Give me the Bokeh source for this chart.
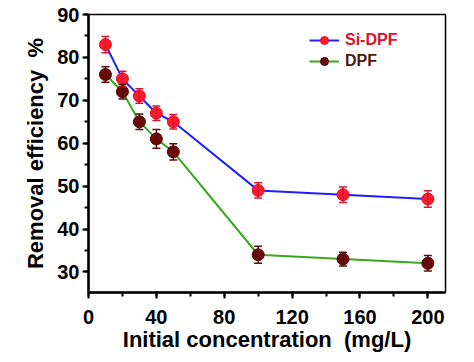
from bokeh.plotting import figure
from bokeh.models import (ColumnDataSource, Whisker, Range1d, SingleIntervalTicker,
                          Legend, LegendItem, TeeHead)
from bokeh.embed import file_html
from bokeh.resources import INLINE

conc = [10, 20, 30, 40, 50, 100, 150, 200]
si_dpf = [83, 75, 71, 67, 65, 49, 48, 47]
si_dpf_err = [1.9, 1.8, 1.7, 1.7, 1.7, 1.8, 1.8, 1.9]
dpf = [76, 72, 65, 61, 58, 34, 33, 32]
dpf_err = [1.8, 1.7, 1.8, 2.2, 1.9, 2.0, 1.6, 1.8]

FONT = "Liberation Sans"

p = figure(width=466, height=354, output_backend="svg", toolbar_location=None,
           x_range=Range1d(0, 210.4), y_range=Range1d(25.2, 90),
           min_border_left=88, min_border_right=21, min_border_top=14, min_border_bottom=56)
p.background_fill_color = "white"
p.border_fill_color = "white"
p.xgrid.visible = False
p.ygrid.visible = False
p.outline_line_color = "black"
p.outline_line_width = 1.5

s1 = ColumnDataSource(dict(x=conc, y=si_dpf,
                           lo=[v - e for v, e in zip(si_dpf, si_dpf_err)],
                           hi=[v + e for v, e in zip(si_dpf, si_dpf_err)]))
s2 = ColumnDataSource(dict(x=conc, y=dpf,
                           lo=[v - e for v, e in zip(dpf, dpf_err)],
                           hi=[v + e for v, e in zip(dpf, dpf_err)]))

l1 = p.line("x", "y", source=s1, line_color="#1f1fff", line_width=2)
l2 = p.line("x", "y", source=s2, line_color="#3aa81a", line_width=2)

for src, col in ((s1, "#d01838"), (s2, "#5a0c0c")):
    w = Whisker(base="x", upper="hi", lower="lo", source=src,
                line_color=col, line_width=1.5,
                upper_head=TeeHead(size=8, line_color=col, line_width=1.5),
                lower_head=TeeHead(size=8, line_color=col, line_width=1.5))
    w.level = "overlay"
    p.add_layout(w)

m1 = p.scatter("x", "y", source=s1, size=12, fill_color="#ff1a2a", line_color="#e0102a", line_width=1)
m2 = p.scatter("x", "y", source=s2, size=12, fill_color="#6b0a0a", line_color="#4a0505", line_width=1)
m1.level = "overlay"
m2.level = "overlay"

# axes
for ax in (p.xaxis[0], p.yaxis[0]):
    ax.axis_line_width = 2.5
    ax.major_tick_line_width = 2
    ax.minor_tick_line_width = 2
    ax.major_tick_in = 0
    ax.major_tick_out = 6
    ax.minor_tick_in = 0
    ax.minor_tick_out = 4
    ax.major_label_text_font = FONT
    ax.major_label_text_font_style = "bold"
    ax.major_label_text_font_size = "20px"
    ax.major_label_text_color = "black"
    ax.axis_label_text_font = FONT
    ax.axis_label_text_font_style = "bold"
    ax.axis_label_text_font_size = "22px"
    ax.axis_label_text_color = "black"

p.xaxis.major_label_standoff = 11
p.xaxis.axis_label_standoff = 0
p.yaxis.major_label_standoff = 3
p.yaxis.axis_label_standoff = 6

p.xaxis.ticker = SingleIntervalTicker(interval=40, num_minor_ticks=2)
p.yaxis.ticker = SingleIntervalTicker(interval=10, num_minor_ticks=2)
p.xaxis.axis_label = "Initial concentration\u00a0\u00a0(mg/L)"
p.yaxis.axis_label = "Removal efficiency\u00a0\u00a0%"

# legends
for item, color, loc in ((LegendItem(label="Si-DPF", renderers=[l1, m1]), "#e0102a", (221, 242)),
                         (LegendItem(label="DPF", renderers=[l2, m2]), "#4a1a0a", (221, 221))):
    lg = Legend(items=[item], location=loc, padding=0, margin=0, spacing=0,
                glyph_width=30, glyph_height=20, label_standoff=6,
                label_text_font=FONT, label_text_font_style="bold",
                label_text_font_size="16px", label_text_color=color,
                border_line_color=None, background_fill_alpha=0)
    p.add_layout(lg)

open("out.html", "w").write(file_html(p, INLINE))
